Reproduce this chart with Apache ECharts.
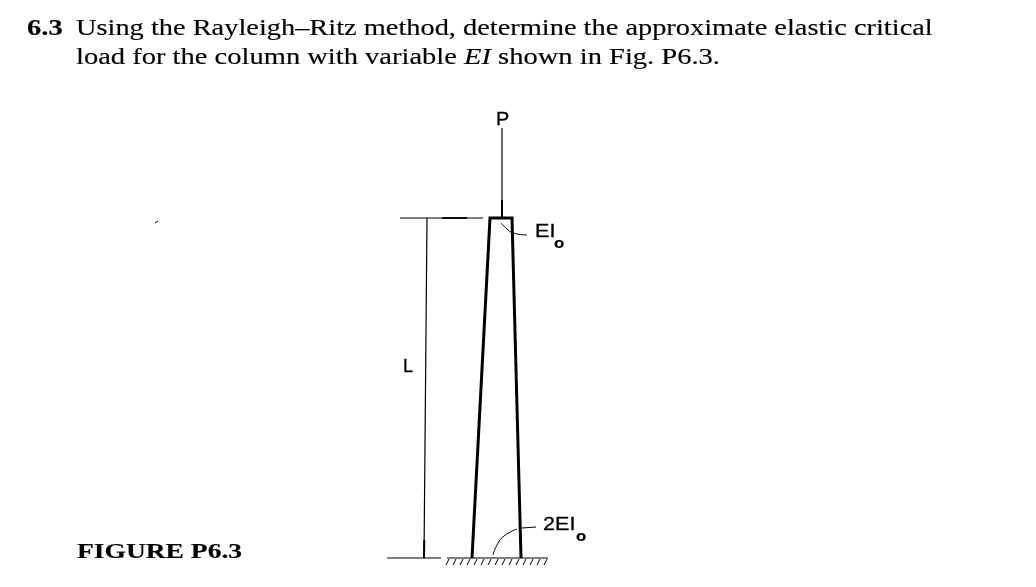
<!DOCTYPE html>
<html><head><meta charset="utf-8">
<style>html,body{margin:0;padding:0;background:#fff}#c{width:1036px;height:587px}</style>
<script src="https://cdn.jsdelivr.net/npm/echarts@6/dist/echarts.min.js"></script>
</head><body><div id="c"></div>
<script>
const columnOutline = [[472,558],[490,218],[512,218],[521,558]];
const loadLine = [[502,128],[502,218]];
const loadLineThick = [[502,200],[502,218]];
const dimTop = [[400,218],[483,218]];
const dimTopThick = [[442,218],[467,218]];
const dimVertical = [[427,218],[424,558]];
const dimVerticalThick = [[424.3,540],[424,558]];
const groundLeft = [[387,558],[441,558]];
const groundRight = [[447,558],[548,558]];
const leaderTop = [[501,223],[507,229],[513,233],[527,235]];
const leaderBottomArc = [[493,555],[497,545],[504,536],[517,529]];
const leaderBottomTick = [[522,528],[536,527]];
const speck = [[155,223],[158,221]];
const hatchX = [449,456,463,470,477,484,491,498,505,512,519,526,533,540,547];
const hatchTop = 559, hatchBottom = 565, hatchSlant = 3;
const textItems = [
  ['{b|6.3}', 27, 29],
  ['Using the Rayleigh–Ritz method, determine the approximate elastic critical', 76, 29],
  ['load for the column with variable {i|EI} shown in Fig. P6.3.', 76, 58],
  ['{f|FIGURE P6.3}', 77, 552],
  ['{s|P}', 496, 120],
  ['{s|L}', 403, 367],
  ['{s|EI}', 535, 232],
  ['{o|o}', 554, 244],
  ['{s|2EI}', 543, 525],
  ['{o|o}', 576, 537]
];
const textStretch = [1.24, 1.234, 1.24, 1.25, 1.1, 1, 1.2, 1.2, 1.2, 1.2];

const ink = '#000';
const lineSeries = (data, width, smooth) => ({
  type: 'line', data, symbol: 'none', smooth: !!smooth, silent: true, clip: false,
  lineStyle: { color: ink, width, cap: 'butt', join: 'miter' }
});
const hatchSeries = hatchX.map(x => lineSeries([[x, hatchTop],[x - hatchSlant, hatchBottom]], 1));
const stroke = { stroke: ink, lineWidth: 0.15 };
const rich = {
  b: { fontFamily: 'Liberation Serif', fontWeight: 'bold', fontSize: 23, fill: ink },
  i: { fontFamily: 'Liberation Serif', fontStyle: 'italic', fontSize: 23, fill: ink, ...stroke },
  f: { fontFamily: 'Liberation Serif', fontWeight: 'bold', fontSize: 22, fill: ink },
  s: { fontFamily: 'Liberation Sans', fontSize: 18, fill: ink, stroke: ink, lineWidth: 0.3 },
  o: { fontFamily: 'Liberation Sans', fontWeight: 'bold', fontSize: 14, fill: ink }
};
const textSeries = {
  type: 'custom', coordinateSystem: 'cartesian2d', silent: true, clip: false,
  encode: { x: 0, y: 1 },
  data: textItems.map((t, i) => [t[1], t[2], i]),
  renderItem: (params, api) => {
    const i = api.value(2);
    const p = api.coord([api.value(0), api.value(1)]);
    return {
      type: 'text', x: p[0], y: p[1], scaleX: textStretch[i],
      style: {
        text: textItems[i][0], rich,
        font: '23px "Liberation Serif"', fill: ink, ...stroke,
        align: 'left', verticalAlign: 'middle'
      }
    };
  }
};
const chart = echarts.init(document.getElementById('c'), null, { renderer: 'canvas' });
chart.setOption({
  animation: false,
  backgroundColor: '#fff',
  grid: { left: 0, right: 0, top: 0, bottom: 0 },
  xAxis: { type: 'value', min: 0, max: 1036, show: false },
  yAxis: { type: 'value', min: 0, max: 587, inverse: true, show: false },
  series: [
    lineSeries(columnOutline, 3),
    lineSeries(loadLine, 1.2),
    lineSeries(loadLineThick, 2),
    lineSeries(dimTop, 1.2),
    lineSeries(dimTopThick, 1.8),
    lineSeries(dimVertical, 1.2),
    lineSeries(dimVerticalThick, 2),
    lineSeries(groundLeft, 1.2),
    lineSeries(groundRight, 1.2),
    lineSeries(leaderTop, 1, true),
    lineSeries(leaderBottomArc, 1, true),
    lineSeries(leaderBottomTick, 1),
    lineSeries(speck, 1),
    ...hatchSeries,
    textSeries
  ]
});
</script></body></html>
